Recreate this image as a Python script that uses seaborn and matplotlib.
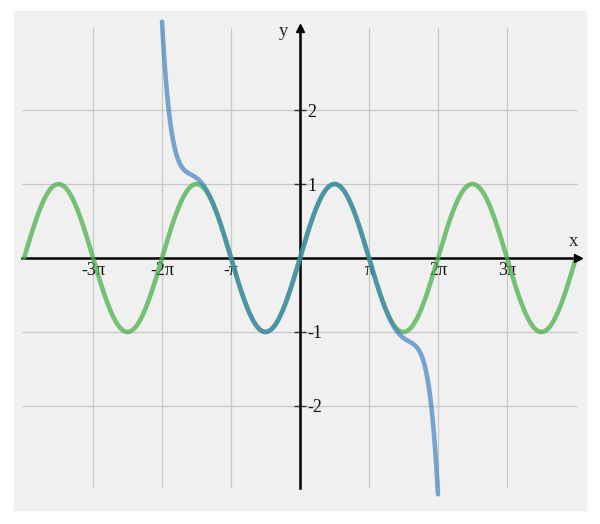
import numpy as np
import pandas as pd
import matplotlib
matplotlib.use("Agg")
import matplotlib.pyplot as plt
from matplotlib.patches import Rectangle
import seaborn as sns

# sine curve and its Maclaurin polynomial (degree 11)
x_span = [-4 * np.pi, 4 * np.pi]
taylor_span = [-2 * np.pi, 2 * np.pi]
taylor_coefs = [1, -1 / 6, 1 / 120, -1 / 5040, 1 / 362880, -1 / 39916800]
taylor_powers = [1, 3, 5, 7, 9, 11]

x_ticks = [-3, -2, -1, 1, 2, 3]
x_labels = ["-3π", "-2π", "-π", "π", "2π", "3π"]
y_ticks = [-2, -1, 1, 2]
y_labels = ["-2", "-1", "1", "2"]

xs = np.linspace(x_span[0], x_span[1], 800)
sine = pd.DataFrame({"x": xs, "y": np.sin(xs)})
xt = np.linspace(taylor_span[0], taylor_span[1], 600)
poly = pd.DataFrame({"x": xt, "y": sum(c * xt ** p for c, p in zip(taylor_coefs, taylor_powers))})

sns.set_style("white")
plt.rcParams["font.family"] = ["Liberation Serif", "DejaVu Serif"]

bg = "#f0f0f0"
fig = plt.figure(figsize=(6, 5.24), dpi=100)
fig.patches.append(Rectangle((14 / 600, 14 / 524), 572 / 600, 499 / 524,
                             transform=fig.transFigure, color=bg, zorder=-1))
ax = fig.add_axes([22 / 600, 36 / 524, 556 / 600, 460 / 524])
ax.set_facecolor(bg)

sns.lineplot(data=sine, x="x", y="y", ax=ax, color="#4cb04c", alpha=0.75,
             linewidth=3.3, clip_on=False, zorder=3)
sns.lineplot(data=poly, x="x", y="y", ax=ax, color="#3a7fbf", alpha=0.68,
             linewidth=3.3, clip_on=False, zorder=4)

ax.set_xlim(-4.03 * np.pi, 4.03 * np.pi)
ax.set_ylim(-3.11, 3.11)
ax.set_xlabel("")
ax.set_ylabel("")

# move the axis lines through the origin first (this resets the ticks)
ax.spines["bottom"].set_position(("data", 0))
ax.spines["right"].set_position(("data", 0))
ax.spines["top"].set_visible(False)
ax.spines["left"].set_visible(False)
for s in ["bottom", "right"]:
    ax.spines[s].set_linewidth(1.8)
    ax.spines[s].set_color("black")
ax.yaxis.set_ticks_position("right")

ax.set_xticks([k * np.pi for k in x_ticks])
ax.set_xticklabels(x_labels)
ax.set_yticks(y_ticks)
ax.set_yticklabels(y_labels)
ax.grid(True, color="#c8c8c8", linewidth=0.9)
ax.tick_params(axis="x", length=0, pad=3, labelsize=13, labelcolor="#111111")
ax.tick_params(axis="y", direction="inout", length=8, width=1, color="#333333", pad=1,
               labelsize=13, labelcolor="#111111")

ax.plot(1, 0, ">k", transform=ax.get_yaxis_transform(), clip_on=False, markersize=6, zorder=5)
ax.plot(0, 1, "^k", transform=ax.get_xaxis_transform(), clip_on=False, markersize=6, zorder=5)

ax.text(12.45, 0.22, "x", fontsize=13.5, ha="center", va="center")
ax.text(-0.77, 3.06, "y", fontsize=13.5, ha="center", va="center")

fig.savefig("out.png", dpi=100, facecolor="white")
